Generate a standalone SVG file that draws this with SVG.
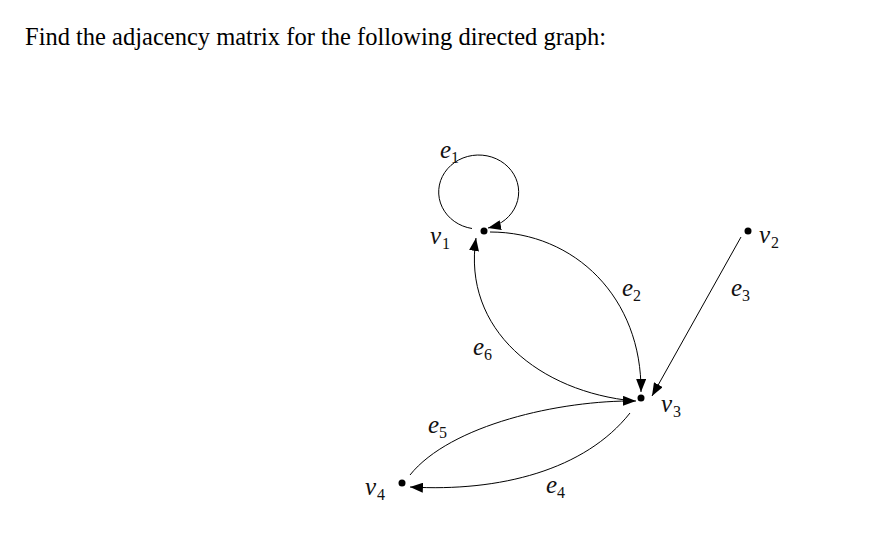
<svg xmlns="http://www.w3.org/2000/svg" width="871" height="544" viewBox="0 0 871 544">
<style>
.t{font-family:"Liberation Serif","Times New Roman",serif;font-size:24.5px;fill:#000}
.m{font-family:"Liberation Serif","Times New Roman",serif;font-style:italic;font-size:25px;fill:#111}
.s{font-family:"Liberation Serif","Times New Roman",serif;font-size:16px;fill:#111}
.e{fill:none;stroke:#000;stroke-width:1}
.d{fill:#000}
</style>
<defs>
<marker id="ah" markerWidth="14" markerHeight="10" refX="13" refY="5" orient="auto" markerUnits="userSpaceOnUse">
<path d="M0,0 L13,5 L0,10 Z" fill="#000"/>
</marker>
</defs>
<rect width="871" height="544" fill="#fff"/>
<text class="t" x="25" y="45">Find the adjacency matrix for the following directed graph:</text>
<g id="edges">
<path id="e1" class="e" d="M 472 228.5 A 40 37 0 1 1 488 228" marker-end="url(#ah)"/>
<path id="e2" class="e" d="M 490 232 C 575 232, 642 298, 641 392" marker-end="url(#ah)"/>
<path id="e3" class="e" d="M 741 237 L 652 396" marker-end="url(#ah)"/>
<path id="e6" class="e" d="M 634 401 C 540 392, 462 330, 476 238" marker-end="url(#ah)"/>
<path id="e5" class="e" d="M 410 475 C 450 425, 560 400, 636 401" marker-end="url(#ah)"/>
<path id="e4" class="e" d="M 630 413 C 585 470, 500 492, 410 487" marker-end="url(#ah)"/>
</g>
<g id="v1"><circle class="d" cx="484" cy="231" r="3.5"/><text class="m" x="430" y="244">v</text><text class="s" x="442" y="249">1</text></g>
<g id="v2"><circle class="d" cx="748" cy="231" r="3.5"/><text class="m" x="759" y="243">v</text><text class="s" x="771" y="248">2</text></g>
<g id="v3"><circle class="d" cx="641" cy="398" r="3.5"/><text class="m" x="661" y="412">v</text><text class="s" x="673" y="417">3</text></g>
<g id="v4"><circle class="d" cx="402" cy="483" r="3.5"/><text class="m" x="365" y="495">v</text><text class="s" x="377" y="500">4</text></g>
<g id="labels">
<text class="m" x="440" y="158">e</text><text class="s" x="451" y="163">1</text>
<text class="m" x="622" y="296">e</text><text class="s" x="633" y="301">2</text>
<text class="m" x="731" y="296">e</text><text class="s" x="742" y="301">3</text>
<text class="m" x="473" y="355">e</text><text class="s" x="484" y="360">6</text>
<text class="m" x="428" y="433">e</text><text class="s" x="439" y="438">5</text>
<text class="m" x="546" y="493">e</text><text class="s" x="557" y="498">4</text>
</g>
</svg>
